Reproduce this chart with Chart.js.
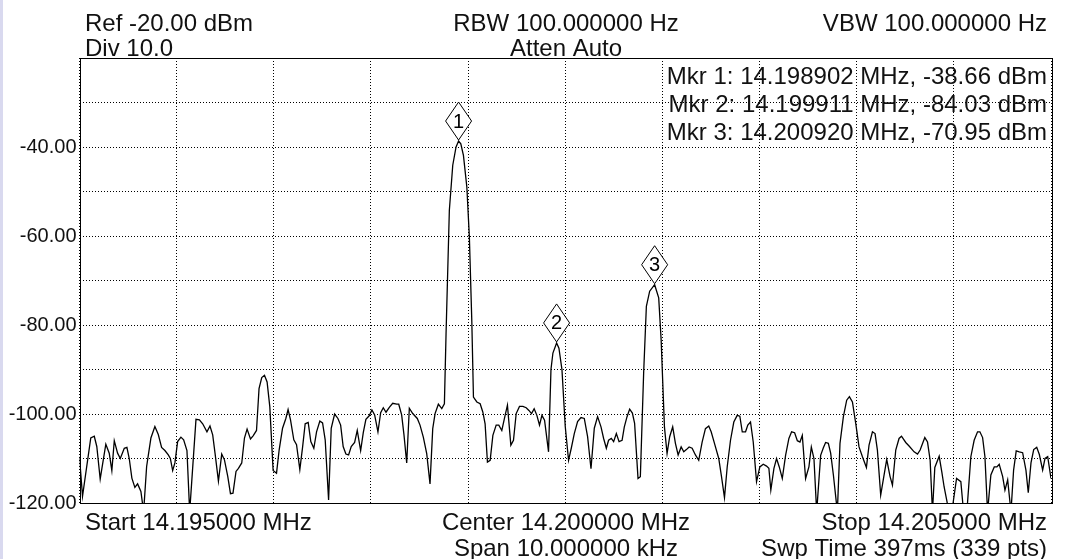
<!DOCTYPE html>
<html>
<head>
<meta charset="utf-8">
<script src="https://cdn.jsdelivr.net/npm/chart.js@4.4.1/dist/chart.umd.min.js"></script>
<style>
  html, body { margin: 0; padding: 0; background: #fff; }
  canvas { display: block; }
</style>
</head>
<body>
<canvas id="spectrum" width="1071" height="559"></canvas>
<script>
// Sweep settings
const startKHz = 14195.0;
const spanKHz = 10.0;
const refLevel = -20;
const divDb = 10;
const bottomLevel = -120;

// Trace: frequency offset from start (kHz) and level (dBm)
const freqOffsetKHz = [
  0.000, 0.031, 0.116, 0.152, 0.178, 0.213, 0.271, 0.306, 0.333, 0.358,
  0.392, 0.420, 0.461, 0.488, 0.512, 0.539, 0.570, 0.598, 0.632, 0.660,
  0.691, 0.735, 0.776, 0.811, 0.845, 0.879, 0.914, 0.935, 0.959, 0.982,
  1.010, 1.044, 1.072, 1.106, 1.134, 1.199, 1.234, 1.268, 1.312, 1.343,
  1.371, 1.395, 1.430, 1.464, 1.492, 1.526, 1.554, 1.580, 1.611, 1.636,
  1.670, 1.698, 1.725, 1.760, 1.787, 1.822, 1.848, 1.876, 1.904, 1.931,
  1.959, 1.993, 2.028, 2.055, 2.090, 2.124, 2.147, 2.172, 2.206, 2.234,
  2.268, 2.296, 2.323, 2.354, 2.381, 2.412, 2.440, 2.474, 2.502, 2.529,
  2.564, 2.591, 2.626, 2.660, 2.688, 2.714, 2.742, 2.770, 2.797, 2.832,
  2.859, 2.894, 2.921, 2.948, 2.982, 3.010, 3.038, 3.072, 3.100, 3.127,
  3.155, 3.189, 3.224, 3.265, 3.286, 3.316, 3.340, 3.368, 3.395, 3.430,
  3.477, 3.505, 3.539, 3.574, 3.608, 3.636, 3.660, 3.694, 3.729, 3.756,
  3.773, 3.807, 3.842, 3.876, 3.902, 3.925, 3.952, 3.987, 4.013, 4.038,
  4.055, 4.090, 4.124, 4.152, 4.175, 4.199, 4.227, 4.255, 4.289, 4.316,
  4.347, 4.381, 4.405, 4.440, 4.467, 4.495, 4.529, 4.564, 4.598, 4.626,
  4.653, 4.680, 4.708, 4.735, 4.760, 4.787, 4.828, 4.853, 4.873, 4.911,
  4.935, 4.966, 5.000, 5.034, 5.062, 5.093, 5.127, 5.162, 5.196, 5.230,
  5.265, 5.299, 5.333, 5.368, 5.395, 5.423, 5.446, 5.474, 5.498, 5.526,
  5.554, 5.585, 5.608, 5.636, 5.663, 5.691, 5.714, 5.749, 5.773, 5.807,
  5.835, 5.869, 5.920, 5.962, 5.987, 6.021, 6.048, 6.075, 6.106, 6.134,
  6.162, 6.193, 6.220, 6.247, 6.275, 6.306, 6.340, 6.374, 6.409, 6.443,
  6.477, 6.502, 6.536, 6.580, 6.608, 6.639, 6.667, 6.701, 6.735, 6.770,
  6.797, 6.822, 6.856, 6.879, 6.907, 6.935, 6.969, 7.003, 7.038, 7.072,
  7.096, 7.116, 7.148, 7.175, 7.203, 7.234, 7.268, 7.302, 7.330, 7.361,
  7.389, 7.416, 7.440, 7.474, 7.508, 7.533, 7.560, 7.588, 7.629, 7.657,
  7.680, 7.708, 7.732, 7.760, 7.801, 7.828, 7.863, 7.897, 7.925, 7.956,
  7.990, 8.024, 8.059, 8.100, 8.127, 8.162, 8.189, 8.213, 8.247, 8.282,
  8.309, 8.343, 8.368, 8.402, 8.436, 8.461, 8.505, 8.539, 8.591, 8.626,
  8.653, 8.701, 8.729, 8.756, 8.780, 8.804, 8.849, 8.876, 8.900, 8.928,
  8.948, 8.979, 9.028, 9.072, 9.100, 9.134, 9.175, 9.209, 9.244, 9.268,
  9.296, 9.320, 9.347, 9.381, 9.416, 9.443, 9.467, 9.502, 9.526, 9.554,
  9.588, 9.615, 9.642, 9.673, 9.708, 9.742, 9.766, 9.794, 9.822, 9.853,
  9.880, 9.914, 9.938, 9.966, 10.000
];
const levelDbm = [
  -109.6, -118.5, -105.4, -105.0, -107.3, -114.6, -106.8, -108.8, -112.7, -106.0,
  -108.8, -110.0, -107.7, -107.5, -110.0, -114.4, -116.5, -115.7, -117.4, -122.0,
  -111.8, -105.4, -102.8, -104.6, -107.5, -108.2, -109.2, -110.0, -112.7, -111.0,
  -106.2, -105.2, -105.8, -108.2, -122.0, -101.2, -101.3, -102.2, -104.0, -102.7,
  -104.7, -108.8, -115.1, -109.0, -110.3, -114.0, -117.9, -117.8, -112.9, -112.2,
  -111.0, -105.4, -103.4, -105.6, -104.9, -103.7, -94.3, -91.8, -91.3, -92.8,
  -98.4, -112.7, -113.3, -108.1, -103.2, -101.0, -99.0, -101.3, -105.8, -106.9,
  -112.5, -107.5, -102.2, -101.9, -106.2, -107.7, -104.0, -101.6, -102.0, -105.8,
  -119.3, -103.2, -100.0, -101.0, -102.5, -107.3, -109.0, -109.2, -107.3, -106.4,
  -103.7, -108.2, -104.2, -101.2, -100.4, -99.1, -100.2, -104.0, -99.7, -98.6,
  -99.6, -98.5, -97.6, -97.8, -97.8, -100.2, -104.7, -111.0, -98.7, -99.9,
  -101.0, -102.5, -105.2, -108.9, -115.7, -103.3, -99.9, -97.8, -98.8, -97.7,
  -82.0, -54.2, -44.1, -40.0, -38.66, -39.3, -41.9, -49.0, -60.2, -79.0,
  -96.2, -97.3, -97.7, -99.6, -102.2, -110.8, -110.4, -104.8, -102.5, -102.5,
  -103.7, -100.3, -98.0, -107.0, -105.9, -99.9, -98.3, -98.3, -98.6, -99.2,
  -99.9, -98.8, -100.3, -102.5, -100.3, -101.4, -108.5, -90.0, -86.3, -84.03,
  -85.2, -90.0, -102.8, -110.4, -107.7, -104.4, -101.7, -100.8, -101.0, -105.1,
  -112.3, -103.2, -100.6, -102.9, -105.5, -107.7, -105.9, -105.5, -106.2, -104.4,
  -106.2, -105.9, -102.9, -100.6, -98.9, -99.8, -102.1, -114.5, -114.1, -90.8,
  -75.8, -72.4, -70.95, -73.9, -83.3, -102.9, -108.9, -105.1, -102.9, -106.6,
  -109.2, -107.4, -108.5, -108.0, -107.4, -107.7, -109.2, -110.4, -106.3, -103.3,
  -102.7, -104.0, -106.6, -110.0, -114.0, -118.8, -111.9, -105.9, -101.8, -100.3,
  -100.5, -104.0, -104.0, -102.5, -101.8, -106.3, -115.2, -111.9, -111.3, -111.7,
  -112.2, -117.1, -112.2, -110.0, -111.9, -114.5, -109.3, -105.5, -104.0, -104.2,
  -106.0, -106.3, -104.8, -114.5, -111.9, -107.4, -110.0, -122.0, -109.3, -107.6,
  -106.4, -106.6, -108.8, -113.7, -122.0, -106.6, -100.6, -96.9, -96.1, -97.3,
  -102.1, -107.4, -109.6, -112.0, -107.0, -104.0, -104.4, -108.1, -118.2, -113.7,
  -110.2, -114.0, -116.0, -108.1, -105.5, -105.0, -106.4, -107.2, -108.5, -109.0,
  -108.1, -105.3, -106.3, -110.4, -122.0, -112.0, -109.5, -113.0, -116.4, -119.5,
  -122.0, -122.0, -114.5, -115.2, -122.0, -122.0, -109.6, -105.9, -104.0, -104.0,
  -105.3, -109.6, -122.0, -113.7, -111.9, -111.9, -111.3, -114.0, -117.1, -114.8,
  -122.0, -112.6, -108.3, -108.5, -108.7, -112.6, -117.7, -111.0, -108.0, -107.5,
  -109.1, -112.6, -110.0, -109.6, -114.5
];

// Markers
const markerNumbers = [1, 2, 3];
const markerOffsetKHz = [3.902, 4.911, 5.920];
const markerLevel = [-38.66, -84.03, -70.95];

// Instrument annotations
const rbwHz = 100;
const vbwHz = 100;
const sweepMs = 397;
const sweepPoints = 339;

const textFont = '24px "Liberation Sans", Arial, sans-serif';
const textColor = '#111';

function mhz(offKHz) {
  return ((startKHz + offKHz) / 1000).toFixed(6);
}

const annotations = {
  id: 'annotations',
  beforeDraw(chart) {
    const ctx = chart.ctx;
    ctx.save();
    ctx.fillStyle = '#fff';
    ctx.fillRect(0, 0, chart.width, chart.height);
    ctx.fillStyle = '#d9d9ef'; // thin border strip on the left
    ctx.fillRect(0, 0, 3, chart.height);
    ctx.restore();
  },
  afterDatasetsDraw(chart) {
    const ctx = chart.ctx;
    const xs = chart.scales.x;
    const ys = chart.scales.y;
    const a = chart.chartArea;

    // Frame round the plot
    ctx.save();
    ctx.strokeStyle = '#000';
    ctx.lineWidth = 1;
    ctx.strokeRect(Math.round(a.left) + 0.5, Math.round(a.top) + 0.5,
      Math.round(a.right - a.left), Math.round(a.bottom - a.top));

    // Marker diamonds
    markerNumbers.forEach((n, i) => {
      const px = xs.getPixelForValue(markerOffsetKHz[i]);
      const py = ys.getPixelForValue(markerLevel[i]) - 1;
      const w = 13, h = 38;
      ctx.beginPath();
      ctx.moveTo(px, py - h);
      ctx.lineTo(px + w, py - h / 2);
      ctx.lineTo(px, py);
      ctx.lineTo(px - w, py - h / 2);
      ctx.closePath();
      ctx.fillStyle = '#fff';
      ctx.fill();
      ctx.strokeStyle = '#000';
      ctx.stroke();
      ctx.fillStyle = '#000';
      ctx.font = '20px "Liberation Sans", Arial, sans-serif';
      ctx.textAlign = 'center';
      ctx.textBaseline = 'middle';
      ctx.fillText(String(n), px, py - h / 2 + 1);
    });
    ctx.restore();
  },
  afterDraw(chart) {
    const ctx = chart.ctx;
    ctx.save();
    ctx.font = textFont;
    ctx.fillStyle = textColor;
    ctx.textBaseline = 'alphabetic';

    const left = 85, mid = 566, right = 1047;
    const put = (txt, x, y, align) => { ctx.textAlign = align; ctx.fillText(txt, x, y); };

    put(`Ref ${refLevel.toFixed(2)} dBm`, left, 31, 'left');
    put(`Div ${divDb.toFixed(1)}`, left, 56, 'left');
    put(`RBW ${rbwHz.toFixed(6)} Hz`, mid, 31, 'center');
    put('Atten Auto', mid, 56, 'center');
    put(`VBW ${vbwHz.toFixed(6)} Hz`, right, 31, 'right');

    // Marker readout
    markerNumbers.forEach((n, i) => {
      put(`Mkr ${n}: ${mhz(markerOffsetKHz[i])} MHz, ${markerLevel[i].toFixed(2)} dBm`,
        right, 84 + i * 28, 'right');
    });

    put(`Start ${mhz(0)} MHz`, left, 530, 'left');
    put(`Center ${mhz(spanKHz / 2)} MHz`, mid, 530, 'center');
    put(`Stop ${mhz(spanKHz)} MHz`, right, 530, 'right');
    put(`Span ${spanKHz.toFixed(6)} kHz`, mid, 556, 'center');
    put(`Swp Time ${sweepMs}ms (${sweepPoints} pts)`, right, 556, 'right');
    ctx.restore();
  }
};

const ctx = document.getElementById('spectrum').getContext('2d');

new Chart(ctx, {
  type: 'line',
  data: {
    datasets: [{
      data: freqOffsetKHz.map((f, i) => ({ x: f, y: levelDbm[i] })),
      borderColor: '#000',
      borderWidth: 1.3,
      pointRadius: 0,
      tension: 0,
      fill: false
    }]
  },
  options: {
    responsive: false,
    animation: false,
    layout: { padding: { left: 0, top: 58, right: 20, bottom: 56 } },
    plugins: {
      legend: { display: false },
      tooltip: { enabled: false }
    },
    scales: {
      x: {
        type: 'linear',
        min: 0,
        max: spanKHz,
        ticks: { display: false, stepSize: spanKHz / 10 },
        grid: { color: '#000', lineWidth: 1, drawTicks: false },
        border: { display: false, dash: [1, 2] },
        afterFit: (s) => { s.height = 0; }
      },
      y: {
        min: bottomLevel,
        max: refLevel,
        ticks: {
          stepSize: divDb,
          padding: 3,
          color: '#111',
          font: { family: '"Liberation Sans", Arial, sans-serif', size: 20 },
          callback: (v) => (v % 20 === 0 && v !== refLevel) ? v.toFixed(2) : ''
        },
        grid: { color: '#000', lineWidth: 1, drawTicks: false },
        border: { display: false, dash: [1, 2] },
        afterFit: (s) => { s.width = 79.5; }
      }
    }
  },
  plugins: [annotations]
});
</script>
</body>
</html>
